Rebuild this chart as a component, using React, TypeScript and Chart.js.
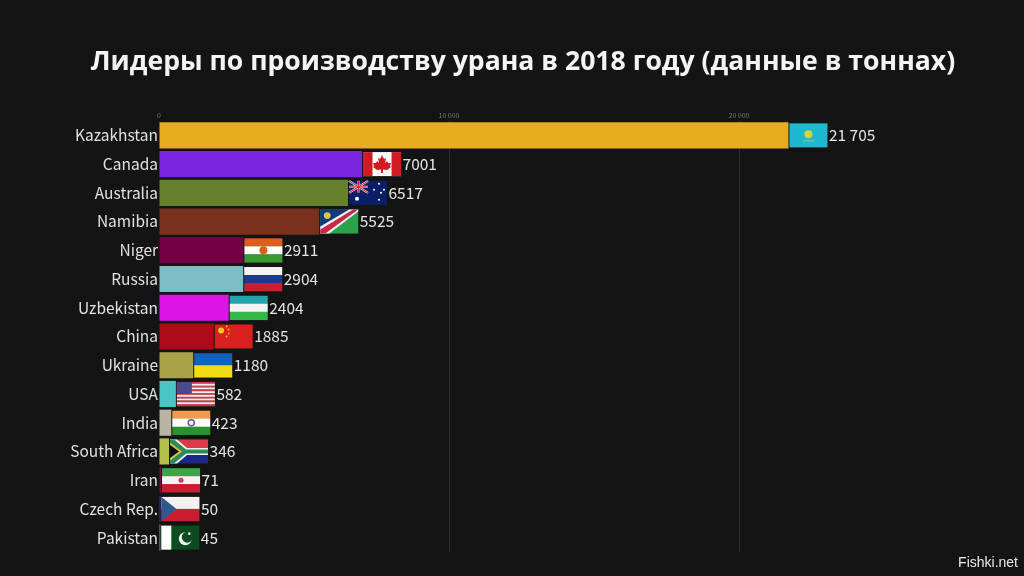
import React, { useEffect, useRef } from 'react';
import { Chart, registerables } from 'chart.js';

Chart.register(...registerables);

const countries = ['Kazakhstan', 'Canada', 'Australia', 'Namibia', 'Niger', 'Russia', 'Uzbekistan', 'China', 'Ukraine', 'USA', 'India', 'South Africa', 'Iran', 'Czech Rep.', 'Pakistan'];
const tonnes = [21705, 7001, 6517, 5525, 2911, 2904, 2404, 1885, 1180, 582, 423, 346, 71, 50, 45];
const valueLabels = ['21 705', '7001', '6517', '5525', '2911', '2904', '2404', '1885', '1180', '582', '423', '346', '71', '50', '45'];
const barColors = ['#e8ac20', '#7a26e0', '#66802c', '#78321c', '#730045', '#7cbcc4', '#dd14e6', '#ad0a1a', '#aaa346', '#48c6c4', '#b8b4a4', '#b4c04c', '#6e1040', '#4a2a96', '#7c9c90'];
const flagKeys = ['kz', 'ca', 'au', 'na', 'ne', 'ru', 'uz', 'cn', 'ua', 'us', 'in', 'za', 'ir', 'cz', 'pk'];
const axisTicks = [0, 10000, 20000];
const axisTickLabels = ['0', '10 000', '20 000'];
const title = 'Лидеры по производству урана в 2018 году (данные в тоннах)';
const watermark = 'Fishki.net';

const FONT = '"Noto Sans CJK JP", "Noto Sans", sans-serif';
const FLAG_W = 38;
const FLAG_H = 24;

type Ctx = CanvasRenderingContext2D;

function stripes(c: Ctx, cols: string[], w: number, h: number) {
  cols.forEach((col, i) => {
    c.fillStyle = col;
    c.fillRect(0, (h * i) / cols.length, w, h / cols.length + 0.3);
  });
}

function poly(c: Ctx, col: string, pts: number[][]) {
  c.fillStyle = col;
  c.beginPath();
  pts.forEach((p, i) => (i ? c.lineTo(p[0], p[1]) : c.moveTo(p[0], p[1])));
  c.closePath();
  c.fill();
}

function dot(c: Ctx, col: string, x: number, y: number, r: number) {
  c.fillStyle = col;
  c.beginPath();
  c.arc(x, y, r, 0, Math.PI * 2);
  c.fill();
}

// flags are drawn in local coordinates, origin at the flag's top-left corner
const flags: Record<string, (c: Ctx, w: number, h: number) => void> = {
  kz(c, w, h) {
    c.fillStyle = '#1fb9cf';
    c.fillRect(0, 0, w, h);
    dot(c, '#d8d23c', w / 2, h / 2 - 1, 4);
    c.fillStyle = 'rgba(210,210,70,0.6)';
    c.fillRect(w / 2 - 6, h / 2 + 5, 12, 1);
  },
  ca(c, w, h) {
    c.fillStyle = '#fff';
    c.fillRect(0, 0, w, h);
    c.fillStyle = '#d01c20';
    c.fillRect(0, 0, w / 4, h);
    c.fillRect((w * 3) / 4, 0, w / 4, h);
    const m = w / 2;
    poly(c, '#d01c20', [[m, 3], [m + 2, 7], [m + 4, 6], [m + 3, 11], [m + 5, 9], [m + 6, 11], [m + 9, 11], [m + 8, 14], [m + 9, 15], [m + 5, 18], [m + 1, 17.5], [m + 1, 21], [m - 1, 21], [m - 1, 17.5], [m - 5, 18], [m - 9, 15], [m - 8, 14], [m - 9, 11], [m - 6, 11], [m - 5, 9], [m - 3, 11], [m - 4, 6], [m - 2, 7]]);
  },
  au(c, w, h) {
    c.fillStyle = '#0a1f66';
    c.fillRect(0, 0, w, h);
    c.strokeStyle = '#e8d8e0';
    c.lineWidth = 2;
    c.beginPath();
    c.moveTo(0, 0);
    c.lineTo(19, 12);
    c.moveTo(19, 0);
    c.lineTo(0, 12);
    c.moveTo(9.5, 0);
    c.lineTo(9.5, 12);
    c.moveTo(0, 6);
    c.lineTo(19, 6);
    c.stroke();
    c.strokeStyle = '#c8283c';
    c.lineWidth = 1;
    c.stroke();
    dot(c, '#fff', 8, 18, 2);
    [[30, 3], [25, 9], [35, 9], [30, 19], [32, 12]].forEach(p => dot(c, '#fff', p[0], p[1], 1));
  },
  na(c, w, h) {
    c.fillStyle = '#2aa24c';
    c.fillRect(0, 0, w, h);
    poly(c, '#123a80', [[0, 0], [w, 0], [0, h]]);
    poly(c, '#f2f2f2', [[0, h], [0, h - 7], [w - 9, 0], [w, 0], [w, 2], [9, h]]);
    poly(c, '#c8284a', [[0, h], [0, h - 4], [w - 5, 0], [w, 0], [5, h]]);
    dot(c, '#d8c850', 7, 6, 3.4);
  },
  ne(c, w, h) {
    stripes(c, ['#d8601c', '#ffffff', '#3a9a30'], w, h);
    dot(c, '#d8601c', w / 2, h / 2, 4);
  },
  ru(c, w, h) {
    stripes(c, ['#f4f4f4', '#1c3a94', '#c8202c'], w, h);
  },
  uz(c, w, h) {
    stripes(c, ['#26a4ac', '#f4f4f4', '#34b848'], w, h);
  },
  cn(c, w, h) {
    c.fillStyle = '#d8201c';
    c.fillRect(0, 0, w, h);
    dot(c, '#f0c820', 6.5, 6, 3);
    [[12, 2], [14, 5], [14, 9], [12, 12]].forEach(p => dot(c, '#f0c820', p[0], p[1], 0.9));
  },
  ua(c, w, h) {
    stripes(c, ['#1460c0', '#f4dc14'], w, h);
  },
  us(c, w, h) {
    const rows = ['#c84050', '#f0f0f0', '#c84050', '#f0f0f0', '#c84050', '#f0f0f0', '#c84050', '#f0f0f0', '#c84050', '#f0f0f0', '#c84050', '#f0f0f0', '#c84050'];
    stripes(c, rows, w, h);
    c.fillStyle = '#4a4a88';
    c.fillRect(0, 0, 15, 12);
  },
  in(c, w, h) {
    stripes(c, ['#f09c4c', '#ffffff', '#2c9030'], w, h);
    c.strokeStyle = '#5a5a9c';
    c.lineWidth = 1.5;
    c.beginPath();
    c.arc(w / 2, h / 2, 3, 0, Math.PI * 2);
    c.stroke();
  },
  za(c, w, h) {
    c.fillStyle = '#d83c48';
    c.fillRect(0, 0, w, h / 2);
    c.fillStyle = '#1a2a84';
    c.fillRect(0, h / 2, w, h / 2);
    poly(c, '#f0f0f0', [[0, 0], [7, 0], [17, h / 2 - 3.5], [w, h / 2 - 3.5], [w, h / 2 + 3.5], [17, h / 2 + 3.5], [7, h], [0, h]]);
    poly(c, '#2c8c58', [[0, 0], [4, 0], [16, h / 2 - 2], [w, h / 2 - 2], [w, h / 2 + 2], [16, h / 2 + 2], [4, h], [0, h]]);
    poly(c, '#e0c040', [[0, 3], [12, h / 2], [0, h - 3]]);
    poly(c, '#0c0c0c', [[0, 5.5], [9, h / 2], [0, h - 5.5]]);
  },
  ir(c, w, h) {
    stripes(c, ['#36a848', '#f4f4f4', '#cc1c30'], w, h);
    dot(c, '#c84058', w / 2, h / 2, 2.5);
  },
  cz(c, w, h) {
    stripes(c, ['#f2f0f0', '#cc1c30'], w, h);
    poly(c, '#2a5a90', [[0, 0], [w / 2 - 4, h / 2], [0, h]]);
  },
  pk(c, w, h) {
    c.fillStyle = '#0c4a20';
    c.fillRect(0, 0, w, h);
    c.fillStyle = '#fff';
    c.fillRect(0, 0, 10, h);
    dot(c, '#f4f4f4', 24, 13, 6.5);
    dot(c, '#0c4a20', 26, 11.5, 5.5);
    dot(c, '#f4f4f4', 28, 8, 1.3);
  },
};

// draws the flag and value after each bar end, from the library's own bar positions
const barEndPlugin = {
  id: 'barEnd',
  afterDatasetsDraw(chart: any) {
    const c: Ctx = chart.ctx;
    const bars = chart.getDatasetMeta(0).data;
    bars.forEach((bar: any, i: number) => {
      const x = bar.x + 1;
      const y = bar.y - FLAG_H / 2;
      c.save();
      c.translate(x, y);
      flags[flagKeys[i]](c, FLAG_W, FLAG_H);
      c.restore();
      c.save();
      c.fillStyle = '#e4e4e4';
      c.font = `15.5px ${FONT}`;
      c.textAlign = 'left';
      c.textBaseline = 'middle';
      c.fillText(valueLabels[i], x + FLAG_W + 1.5, bar.y);
      c.restore();
    });
  },
};

// title sits off the chart's centre in the reference, so it is placed by hand
const headerPlugin = {
  id: 'header',
  afterDraw(chart: any) {
    const c: Ctx = chart.ctx;
    c.save();
    c.fillStyle = '#f4f4f4';
    c.font = 'bold 26.6px "Open Sans", sans-serif';
    c.textAlign = 'center';
    c.textBaseline = 'middle';
    c.fillText(title, 523, 62);
    c.fillStyle = '#e8e8e8';
    c.font = '14px "Liberation Sans", sans-serif';
    c.textAlign = 'right';
    c.fillText(watermark, chart.width - 6, chart.height - 13);
    c.restore();
  },
};

export default function App() {
  const canvasRef = useRef<HTMLCanvasElement>(null);

  useEffect(() => {
    document.body.style.margin = '0';
    document.body.style.background = '#141414';
    if (!canvasRef.current) return;

    const chart = new Chart(canvasRef.current, {
      type: 'bar',
      data: {
        labels: countries,
        datasets: [{ data: tonnes, backgroundColor: barColors, barPercentage: 0.91, categoryPercentage: 1 }],
      },
      plugins: [barEndPlugin, headerPlugin],
      options: {
        indexAxis: 'y',
        responsive: false,
        animation: false,
        layout: { padding: { left: 0, right: 53, top: 105, bottom: 24 } },
        plugins: {
          legend: { display: false },
          tooltip: { enabled: false },
        },
        scales: {
          x: {
            position: 'top',
            min: 0,
            max: 28000,
            border: { display: false },
            grid: {
              color: (ctx: any) => (ctx.tick && ctx.tick.value === 0 ? 'rgba(0,0,0,0)' : '#2e2e2e'),
              drawTicks: false,
            },
            afterBuildTicks: (s: any) => { s.ticks = axisTicks.map(value => ({ value })); },
            afterFit: (s: any) => { s.height = 16; },
            ticks: {
              color: '#777',
              font: { family: FONT, size: 7 },
              padding: 1,
              maxRotation: 0,
              callback: (_v: any, i: number) => axisTickLabels[i],
            },
          },
          y: {
            border: { display: false },
            grid: { display: false, drawTicks: false },
            afterFit: (s: any) => { s.width = 159; },
            ticks: { color: '#e0e0e0', font: { family: FONT, size: 15.5 }, padding: 1, autoSkip: false },
          },
        },
      },
    });

    return () => chart.destroy();
  }, []);

  return <canvas ref={canvasRef} width={1024} height={576} style={{ display: 'block', background: '#141414' }} />;
}
